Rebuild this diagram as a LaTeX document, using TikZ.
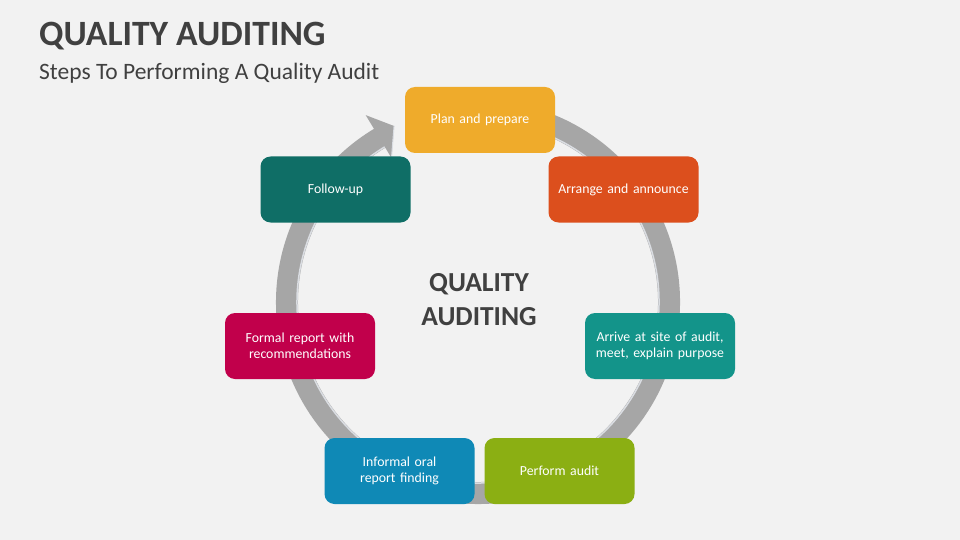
\documentclass[tikz,border=0pt]{standalone}
\usepackage{fontspec}
\setmainfont{Carlito}
\usetikzlibrary{calc}
\definecolor{bgc}{HTML}{F2F2F2}
\definecolor{titlec}{HTML}{404040}
\definecolor{ringc}{HTML}{A6A6A6}
\definecolor{ringl}{HTML}{DADDE2}
\definecolor{planc}{HTML}{EFAB2B}
\definecolor{arrc}{HTML}{DC4F1D}
\definecolor{folc}{HTML}{0F6E66}
\definecolor{forc}{HTML}{C1004B}
\definecolor{arvc}{HTML}{13948A}
\definecolor{infc}{HTML}{0F89B6}
\definecolor{perc}{HTML}{8BAF13}
\tikzset{
  stepbox/.style={draw=none, rounded corners=10pt, minimum width=150pt, minimum height=66pt,
    text width=144pt, align=center, text=white, inner sep=0pt,
    font=\fontsize{13.8}{16}\selectfont},
  ring/.style={draw=ringc, line width=22pt},
}
\begin{document}
\begin{tikzpicture}[x=1pt,y=-1pt]
\useasboundingbox (0,0) rectangle (960,540);
\fill[bgc] (0,0) rectangle (960,540);
% title
\node[anchor=base west, inner sep=0pt, text=titlec, font=\fontsize{35.6}{40}\selectfont\bfseries] (title) at (39,46) {QUALITY AUDITING};
\node[anchor=base west, inner sep=0pt, text=titlec, font=\fontsize{23.5}{26}\selectfont] (subtitle) at (39,80) {Steps To Performing A Quality Audit};
% ring
\coordinate (C) at (478,302);
\draw[ring] (C) ++(-80:191) arc[start angle=-80, end angle=239.5, radius=191];
\draw[ringl, line width=1.5pt] (C) ++(-80:181) arc[start angle=-80, end angle=239.5, radius=181];
\coordinate (hb1) at ($(C)+(239:218)$);
\coordinate (hb2) at ($(C)+(239:168)$);
\coordinate (htip) at ($(C)+(244.5:195)$);
\fill[ringc] (hb1) -- (htip) -- (hb2) -- cycle;
\draw[ringl, line width=1pt] (hb2) -- (htip);
% center text
\node[text=titlec, align=center, font=\fontsize{27.5}{34}\selectfont\bfseries] (center) at (479,300) {QUALITY\\AUDITING};
% boxes
\node[stepbox, fill=planc] (plan) at (480,120) {Plan and prepare};
\node[stepbox, fill=arrc] (arrange) at (623.5,189.5) {Arrange and announce};
\node[stepbox, fill=folc] (follow) at (335.5,189.5) {Follow-up};
\node[stepbox, fill=forc] (formal) at (300,346) {Formal report with\\recommendations};
\node[stepbox, fill=arvc] (arrive) at (660,346) {Arrive at site of audit,\\meet, explain purpose};
\node[stepbox, fill=infc] (informal) at (399.5,471) {Informal oral\\report finding};
\node[stepbox, fill=perc] (perform) at (559.5,471) {Perform audit};
\end{tikzpicture}
\end{document}
